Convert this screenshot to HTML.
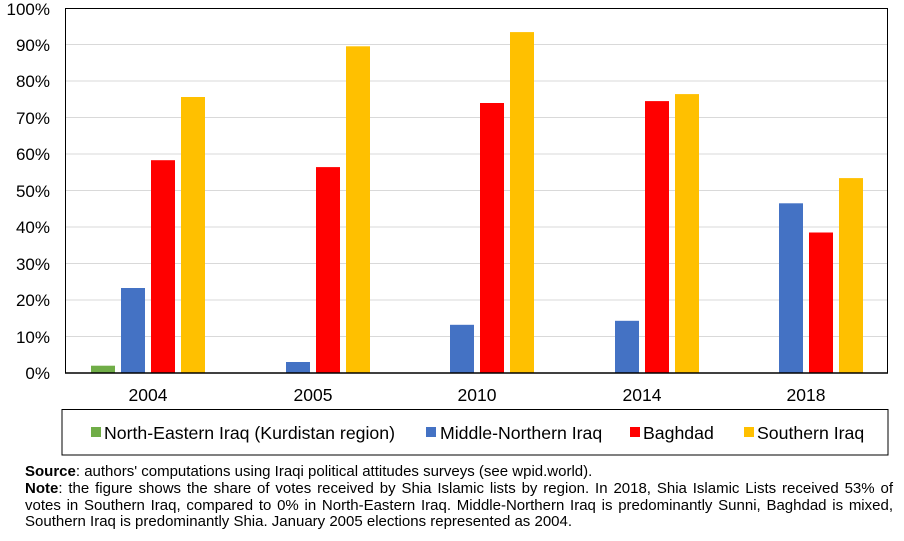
<!DOCTYPE html>
<html><head><meta charset="utf-8"><style>
body{margin:0;width:904px;height:541px;background:#fff;font-family:"Liberation Sans",Arial,sans-serif;position:relative;overflow:hidden}
svg{position:absolute;left:0;top:0}
.notes{position:absolute;left:25px;top:464px;width:868px;font-size:15px;line-height:16.8px;text-align:justify;color:#000}
</style></head><body>
<svg width="904" height="541" font-family="Liberation Sans, Arial, sans-serif">
<g stroke="#d9d9d9" stroke-width="1">
<line x1="65" x2="888" y1="336.5" y2="336.5"/><line x1="65" x2="888" y1="300" y2="300"/>
<line x1="65" x2="888" y1="263.5" y2="263.5"/><line x1="65" x2="888" y1="227" y2="227"/>
<line x1="65" x2="888" y1="190.5" y2="190.5"/><line x1="65" x2="888" y1="154" y2="154"/>
<line x1="65" x2="888" y1="117.5" y2="117.5"/><line x1="65" x2="888" y1="81" y2="81"/>
<line x1="65" x2="888" y1="44.5" y2="44.5"/>
</g>
<g font-size="17" text-anchor="end" fill="#000">
<text x="50" y="379">0%</text><text x="50" y="343">10%</text><text x="50" y="306">20%</text>
<text x="50" y="270">30%</text><text x="50" y="233">40%</text><text x="50" y="197">50%</text>
<text x="50" y="160">60%</text><text x="50" y="124">70%</text><text x="50" y="87">80%</text>
<text x="50" y="51">90%</text><text x="50" y="15">100%</text>
</g>
<g>
<rect x="91" y="365.7" width="24" height="7.3" fill="#70AD47"/>
<rect x="121" y="288" width="24" height="85" fill="#4472C4"/>
<rect x="151" y="160.2" width="24" height="212.8" fill="#FF0000"/>
<rect x="181" y="97" width="24" height="276" fill="#FFC000"/>

<rect x="286" y="362" width="24" height="11" fill="#4472C4"/>
<rect x="316" y="167.1" width="24" height="205.9" fill="#FF0000"/>
<rect x="346" y="46.3" width="24" height="326.7" fill="#FFC000"/>

<rect x="450" y="324.8" width="24" height="48.2" fill="#4472C4"/>
<rect x="480" y="103" width="24" height="270" fill="#FF0000"/>
<rect x="510" y="32.1" width="24" height="340.9" fill="#FFC000"/>

<rect x="615" y="320.8" width="24" height="52.2" fill="#4472C4"/>
<rect x="645" y="101.1" width="24" height="271.9" fill="#FF0000"/>
<rect x="675" y="94.1" width="24" height="278.9" fill="#FFC000"/>

<rect x="779" y="203.3" width="24" height="169.7" fill="#4472C4"/>
<rect x="809" y="232.5" width="24" height="140.5" fill="#FF0000"/>
<rect x="839" y="178.1" width="24" height="194.9" fill="#FFC000"/>
</g>
<rect x="65.5" y="8.5" width="822" height="364.5" fill="none" stroke="#000" stroke-width="1"/>
<line x1="65" x2="888" y1="373" y2="373" stroke="#000" stroke-width="1.5"/>
<g font-size="17.5" text-anchor="middle">
<text x="148" y="401">2004</text><text x="313" y="401">2005</text><text x="477" y="401">2010</text>
<text x="642" y="401">2014</text><text x="806" y="401">2018</text>
</g>
<rect x="62" y="409.5" width="826" height="45.5" fill="none" stroke="#000" stroke-width="1"/>
<g font-size="17.7">
<rect x="91" y="427" width="10" height="10" fill="#70AD47"/><text x="104" y="439">North-Eastern Iraq (Kurdistan region)</text>
<rect x="426" y="427" width="10" height="10" fill="#4472C4"/><text x="440" y="439">Middle-Northern Iraq</text>
<rect x="630" y="427" width="10" height="10" fill="#FF0000"/><text x="643" y="439">Baghdad</text>
<rect x="744" y="427" width="10" height="10" fill="#FFC000"/><text x="757" y="439">Southern Iraq</text>
</g>
</svg>
<div class="notes"><b>Source</b>: authors' computations using Iraqi political attitudes surveys (see wpid.world).<br><b>Note</b>: the figure shows the share of votes received by Shia Islamic lists by region. In 2018, Shia Islamic Lists received 53% of votes in Southern Iraq, compared to 0% in North-Eastern Iraq. Middle-Northern Iraq is predominantly Sunni, Baghdad is mixed, Southern Iraq is predominantly Shia. January 2005 elections represented as 2004.</div>
</body></html>
